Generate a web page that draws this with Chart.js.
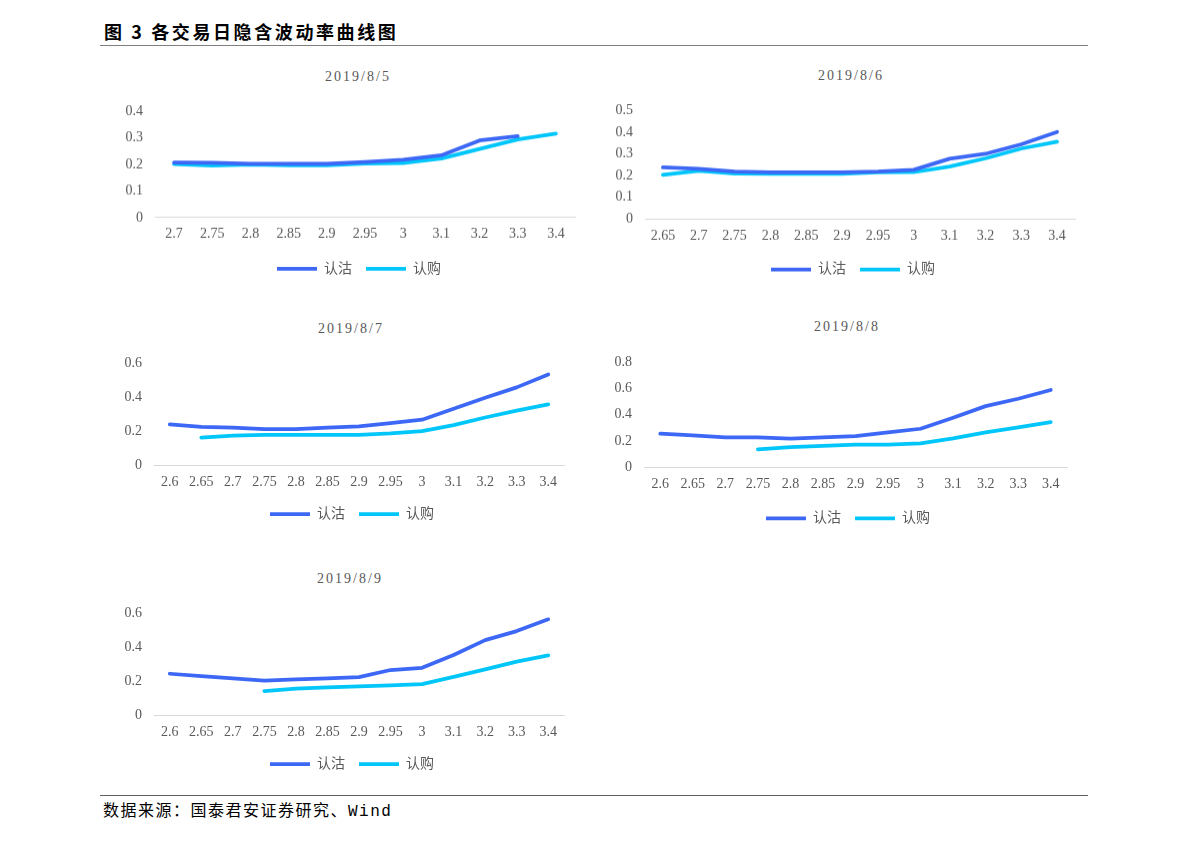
<!DOCTYPE html>
<html lang="zh-CN">
<head>
<meta charset="utf-8">
<title>各交易日隐含波动率曲线图</title>
<script src="https://cdn.jsdelivr.net/npm/chart.js@4/dist/chart.umd.min.js"></script>
<style>
  html, body { margin: 0; padding: 0; background: #fff; }
  body { width: 1191px; height: 841px; position: relative; overflow: hidden; }
  .head { position: absolute; left: 104px; top: 18px; font: 700 18px "Noto Sans CJK SC", sans-serif; letter-spacing: 2.6px; line-height: 26px; color: #000; white-space: nowrap; }
  .rule { position: absolute; left: 100px; width: 988px; height: 0; }
  .foot { position: absolute; left: 103px; top: 801px; font: 16px "Liberation Mono", "Noto Sans CJK SC", monospace; letter-spacing: 1.5px; line-height: 22px; color: #000; white-space: nowrap; }
  .box { position: absolute; }
  .ttl { position: absolute; width: 200px; font: 14px "Liberation Serif", serif; letter-spacing: 2px; line-height: 18px; color: #595959; text-align: center; }
</style>
</head>
<body>
<div class="head">图 3 各交易日隐含波动率曲线图</div>
<div class="rule" style="top:45px; border-top: 1.5px solid #7f7f7f;"></div>

<div class="ttl" id="t1"></div><div class="box" id="b1"><canvas id="c1"></canvas></div>
<div class="ttl" id="t2"></div><div class="box" id="b2"><canvas id="c2"></canvas></div>
<div class="ttl" id="t3"></div><div class="box" id="b3"><canvas id="c3"></canvas></div>
<div class="ttl" id="t4"></div><div class="box" id="b4"><canvas id="c4"></canvas></div>
<div class="ttl" id="t5"></div><div class="box" id="b5"><canvas id="c5"></canvas></div>

<div class="rule" style="top:795px; border-top: 1.5px solid #606060;"></div>
<div class="foot">数据来源：国泰君安证券研究、Wind</div>

<script>
'use strict';

// #region ***  Data                                     ***********
const seriesNames = ['认沽', '认购'];
const dates = ['2019/8/5', '2019/8/6', '2019/8/7', '2019/8/8', '2019/8/9'];

const strikes0805 = ['2.7', '2.75', '2.8', '2.85', '2.9', '2.95', '3', '3.1', '3.2', '3.3', '3.4'];
const strikes0806 = ['2.65', '2.7', '2.75', '2.8', '2.85', '2.9', '2.95', '3', '3.1', '3.2', '3.3', '3.4'];
const strikesWide = ['2.6', '2.65', '2.7', '2.75', '2.8', '2.85', '2.9', '2.95', '3', '3.1', '3.2', '3.3', '3.4'];

const put0805 = [0.208, 0.207, 0.203, 0.203, 0.203, 0.21, 0.218, 0.235, 0.291, 0.307, null];
const call0805 = [0.202, 0.196, 0.2, 0.197, 0.197, 0.204, 0.206, 0.223, 0.259, 0.295, 0.317];

const put0806 = [0.237, 0.231, 0.218, 0.214, 0.214, 0.214, 0.218, 0.226, 0.277, 0.3, 0.344, 0.401];
const call0806 = [0.203, 0.221, 0.209, 0.207, 0.207, 0.207, 0.214, 0.215, 0.241, 0.279, 0.324, 0.356];

const put0807 = [0.241, 0.227, 0.222, 0.214, 0.214, 0.222, 0.229, 0.249, 0.269, 0.333, 0.398, 0.459, 0.535];
const call0807 = [null, 0.163, 0.175, 0.18, 0.18, 0.18, 0.18, 0.188, 0.202, 0.237, 0.282, 0.322, 0.359];

const put0808 = [0.255, 0.242, 0.227, 0.227, 0.217, 0.227, 0.237, 0.265, 0.293, 0.377, 0.466, 0.522, 0.589];
const call0808 = [null, null, null, 0.135, 0.153, 0.163, 0.171, 0.171, 0.181, 0.219, 0.265, 0.303, 0.344];

const put0809 = [0.245, 0.231, 0.218, 0.204, 0.212, 0.218, 0.225, 0.267, 0.28, 0.355, 0.443, 0.496, 0.565];
const call0809 = [null, null, null, 0.143, 0.157, 0.165, 0.171, 0.176, 0.184, 0.227, 0.271, 0.316, 0.353];

const yMaxes = [0.4, 0.5, 0.6, 0.8, 0.6];
const ySteps = [0.1, 0.1, 0.2, 0.2, 0.2];
// #endregion

// #region ***  Layout / styles                          ***********
const putColor = '#3d67f5';
const callColor = '#00c6fa';
const textColor = '#595959';
const serif = "'Liberation Serif', 'Noto Sans CJK SC', serif";

// canvas left, plot left/right/top, x-axis line, legend centre x/y, title centre
const panels = [
  { left: 100, plotLeft: 155, plotRight: 575, plotTop: 111.5, axis: 217, legendX: 359, legendY: 268, titleX: 357, titleY: 76.5 },
  { left: 590, plotLeft: 645, plotRight: 1075, plotTop: 110.7, axis: 218.3, legendX: 853, legendY: 269, titleX: 850, titleY: 75.5 },
  { left: 100, plotLeft: 154, plotRight: 564, plotTop: 363.3, axis: 465.3, legendX: 352, legendY: 514, titleX: 350, titleY: 329 },
  { left: 590, plotLeft: 644, plotRight: 1067, plotTop: 362.3, axis: 467, legendX: 848, legendY: 518.3, titleX: 846, titleY: 326.7 },
  { left: 100, plotLeft: 154, plotRight: 564, plotTop: 613.3, axis: 715.3, legendX: 352, legendY: 764, titleX: 349, titleY: 579 }
];
const fontSize = 14;
const legendGap = 14;
const tickGap = 12;
const padRight = 30;

// moves the legend sideways so it sits under the centre of the original chart
const legendShift = {
  id: 'legendShift',
  afterLayout: function (chart, args, opts) {
    chart.legend.left += opts.dx;
    chart.legend.right += opts.dx;
  }
};
// #endregion

// #region ***  Charts                                   ***********
const makeChart = function (n, labels, put, call) {
  const p = panels[n];
  // the y scale keeps half a label plus its tick padding above the plot
  const top = p.plotTop - fontSize * 0.6 - tickGap;
  const width = p.plotRight + padRight - p.left;
  const height = p.legendY + fontSize / 2 + 10 - top;
  const xHeight = p.legendY - p.axis - fontSize / 2 - legendGap;
  const dx = p.legendX - (p.left + p.plotRight) / 2;

  const box = document.getElementById('b' + (n + 1));
  box.style.left = p.left + 'px';
  box.style.top = top + 'px';
  box.style.width = width + 'px';
  box.style.height = height + 'px';

  const ttl = document.getElementById('t' + (n + 1));
  ttl.textContent = dates[n];
  ttl.style.left = (p.titleX - 99) + 'px';
  ttl.style.top = (p.titleY - 9) + 'px';

  const config = {
    type: 'line',
    data: {
      labels: labels,
      datasets: [
        { label: seriesNames[0], data: put, borderColor: putColor, backgroundColor: putColor, borderWidth: 3.75, borderCapStyle: 'round', borderJoinStyle: 'round', pointRadius: 0, tension: 0 },
        { label: seriesNames[1], data: call, borderColor: callColor, backgroundColor: callColor, borderWidth: 3.75, borderCapStyle: 'round', borderJoinStyle: 'round', pointRadius: 0, tension: 0 }
      ]
    },
    options: {
      responsive: true,
      maintainAspectRatio: false,
      animation: false,
      layout: { padding: { top: 0, right: padRight, left: 0, bottom: 0 } },
      plugins: {
        legendShift: { dx: dx },
        title: { display: false },
        tooltip: { enabled: false },
        legend: {
          position: 'bottom',
          labels: {
            usePointStyle: true,
            pointStyle: 'line',
            pointStyleWidth: 40,
            padding: legendGap,
            color: textColor,
            font: { family: serif, size: fontSize }
          }
        }
      },
      scales: {
        x: {
          offset: true,
          grid: { display: false, drawTicks: false },
          border: { display: true, color: '#d9d9d9', width: 1 },
          ticks: { color: textColor, font: { family: serif, size: fontSize }, padding: 8.5, maxRotation: 0, autoSkip: false },
          afterFit: function (scale) { scale.height = xHeight; }
        },
        y: {
          min: 0,
          max: yMaxes[n],
          grid: { display: false, drawTicks: false },
          border: { display: false },
          ticks: { stepSize: ySteps[n], autoSkip: false, color: textColor, font: { family: serif, size: fontSize }, padding: tickGap },
          afterFit: function (scale) { scale.width = p.plotLeft - p.left; }
        }
      }
    },
    plugins: [legendShift]
  };

  return new Chart(document.getElementById('c' + (n + 1)).getContext('2d'), config);
};

const init = function () {
  makeChart(0, strikes0805, put0805, call0805);
  makeChart(1, strikes0806, put0806, call0806);
  makeChart(2, strikesWide, put0807, call0807);
  makeChart(3, strikesWide, put0808, call0808);
  makeChart(4, strikesWide, put0809, call0809);
};

document.addEventListener('DOMContentLoaded', init);
// #endregion
</script>
</body>
</html>
